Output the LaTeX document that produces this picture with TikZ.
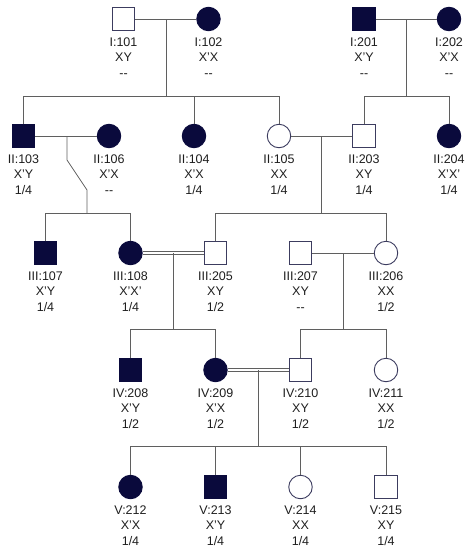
\documentclass[tikz,border=0pt]{standalone}
\usepackage{fontspec}
\setmainfont{Liberation Sans}
\definecolor{navy}{RGB}{10,10,60}
\definecolor{edge}{RGB}{60,60,95}
\definecolor{lin}{RGB}{95,95,95}
\definecolor{txt}{RGB}{30,30,30}
\tikzset{
  sq/.style={rectangle, draw=edge, line width=0.9pt, minimum size=22.5pt, inner sep=0pt},
  ci/.style={circle, draw=edge, line width=0.9pt, minimum size=23.5pt, inner sep=0pt},
  aff/.style={fill=navy, draw=navy},
  lbl/.style={anchor=north, inner sep=0pt, align=center, text=txt, font=\fontsize{12.5}{15.5}\selectfont},
  ln/.style={draw=lin, line width=0.8pt},
  dbl/.style={draw=lin, line width=0.8pt, double=white, double distance=1.6pt}
}
\newcommand{\nd}{-{}-}
\newcommand{\person}[5]{% name, style, x, y, label
  \node[#2] (#1) at (#3,#4) {};
  \node[lbl] (#1l) at (#3,#4+18.5) {#5};
}
\begin{document}
\begin{tikzpicture}[x=1pt,y=-1pt]
\useasboundingbox (0,0) rectangle (474,555);
% generation I
\person{a101}{sq}{123.5}{19}{I:101\\XY\\\nd}
\person{a102}{ci,aff}{208.5}{19}{I:102\\X'X\\\nd}
\person{a201}{sq,aff}{364}{19}{I:201\\X'Y\\\nd}
\person{a202}{ci,aff}{449}{19}{I:202\\X'X\\\nd}
% generation II
\person{b103}{sq,aff}{23.5}{136}{II:103\\X'Y\\1/4}
\person{b106}{ci,aff}{109}{136}{II:106\\X'X\\\nd}
\person{b104}{ci,aff}{194}{136}{II:104\\X'X\\1/4}
\person{b105}{ci}{279}{136}{II:105\\XX\\1/4}
\person{b203}{sq}{364}{136}{II:203\\XY\\1/4}
\person{b204}{ci,aff}{449}{136}{II:204\\X'X'\\1/4}
% generation III
\person{c107}{sq,aff}{45.5}{253}{III:107\\X'Y\\1/4}
\person{c108}{ci,aff}{130.5}{253}{III:108\\X'X'\\1/4}
\person{c205}{sq}{215.5}{253}{III:205\\XY\\1/2}
\person{c207}{sq}{300.5}{253}{III:207\\XY\\\nd}
\person{c206}{ci}{386}{253}{III:206\\XX\\1/2}
% generation IV
\person{d208}{sq,aff}{130.5}{370}{IV:208\\X'Y\\1/2}
\person{d209}{ci,aff}{215.5}{370}{IV:209\\X'X\\1/2}
\person{d210}{sq}{300.5}{370}{IV:210\\XY\\1/2}
\person{d211}{ci}{386}{370}{IV:211\\XX\\1/2}
% generation V
\person{e212}{ci,aff}{130.5}{487}{V:212\\X'X\\1/4}
\person{e213}{sq,aff}{215.5}{487}{V:213\\X'Y\\1/4}
\person{e214}{ci}{300.5}{487}{V:214\\XX\\1/4}
\person{e215}{sq}{386}{487}{V:215\\XY\\1/4}
% helper coordinates
\coordinate (m1) at (166,19);   \coordinate (s1) at (166,96);
\coordinate (m2) at (406,19);   \coordinate (s2) at (406,96);
\coordinate (m3) at (67,136);   \coordinate (k3a) at (67,160); \coordinate (k3b) at (87,190); \coordinate (s3) at (87,213);
\coordinate (m4) at (321.5,136); \coordinate (s4) at (321.5,213);
\coordinate (m5) at (173,253);  \coordinate (s5) at (173,329.5);
\coordinate (m6) at (343,253);  \coordinate (s6) at (343,329.5);
\coordinate (m7) at (258,370);  \coordinate (s7) at (258,446.5);
% matings
\draw[ln] (a101) -- (a102);
\draw[ln] (a201) -- (a202);
\draw[ln] (b103) -- (b106);
\draw[ln] (b105) -- (b203);
\draw[dbl] (c108) -- (c205);
\draw[ln] (c207) -- (c206);
\draw[dbl] (d209) -- (d210);
% descent lines
\draw[ln] (m1) -- (s1);
\draw[ln] (m2) -- (s2);
\draw[ln] (m3) -- (k3a) -- (k3b) -- (s3);
\draw[ln] (m4) -- (s4);
\draw[ln] (m5) -- (s5);
\draw[ln] (m6) -- (s6);
\draw[ln] (m7) -- (s7);
% sibships
\draw[ln] (b103.north) -- (b103.north |- s1) -- (b105.north |- s1) -- (b105.north);
\draw[ln] (b104.north) -- (b104.north |- s1);
\draw[ln] (b203.north) -- (b203.north |- s2) -- (b204.north |- s2) -- (b204.north);
\draw[ln] (c107.north) -- (c107.north |- s3) -- (c108.north |- s3) -- (c108.north);
\draw[ln] (c205.north) -- (c205.north |- s4) -- (c206.north |- s4) -- (c206.north);
\draw[ln] (d208.north) -- (d208.north |- s5) -- (d209.north |- s5) -- (d209.north);
\draw[ln] (d210.north) -- (d210.north |- s6) -- (d211.north |- s6) -- (d211.north);
\draw[ln] (e212.north) -- (e212.north |- s7) -- (e215.north |- s7) -- (e215.north);
\draw[ln] (e213.north) -- (e213.north |- s7);
\draw[ln] (e214.north) -- (e214.north |- s7);
\end{tikzpicture}
\end{document}
